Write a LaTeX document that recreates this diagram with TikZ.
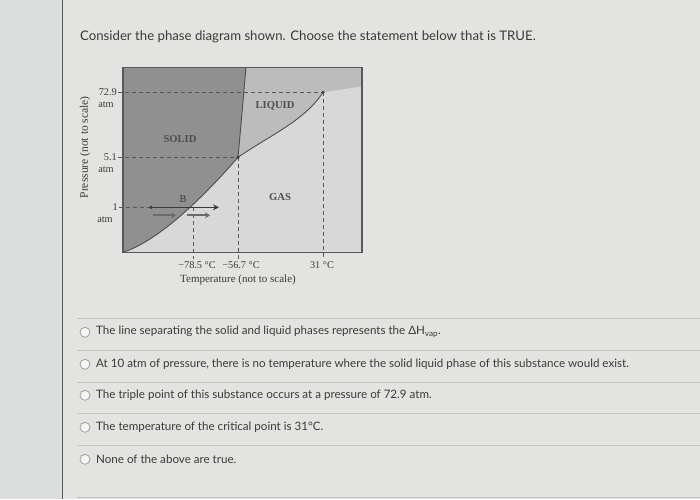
\documentclass[tikz,border=0pt]{standalone}
\usepackage{fontspec}
\setmainfont{Lato}
\newfontfamily\diagfont{Liberation Serif}
\usetikzlibrary{arrows.meta}
\definecolor{bgpanel}{HTML}{E3E3E1}
\definecolor{bgleft}{HTML}{DCDEDE}
\definecolor{solidc}{HTML}{909090}
\definecolor{liquidc}{HTML}{BCBCBC}
\definecolor{gasc}{HTML}{D8D8D8}
\definecolor{inkc}{HTML}{3A3A3A}
\definecolor{sepc}{HTML}{C4C4C4}
\begin{document}
\begin{tikzpicture}[x=1pt,y=-1pt,
  dlabel/.style={font=\diagfont\fontsize{10.3}{11}\selectfont, text=inkc, inner sep=0pt},
  phaselabel/.style={font=\diagfont\fontsize{10.6}{11}\selectfont\bfseries, text=inkc!90, inner sep=0pt},
  guide/.style={draw=inkc!85, dash pattern=on 4pt off 3pt, line width=0.7pt},
  phaseline/.style={draw=inkc!90, line width=0.9pt},
  opt/.style={font=\fontsize{11.6}{13}\selectfont, text=inkc, anchor=west, inner sep=0pt},
  radio/.style={circle, draw=gray!75, fill=white!92!gray, minimum size=10pt, inner sep=0pt, line width=0.8pt},
  sepline/.style={draw=sepc, line width=0.8pt},
  smallarrow/.style={draw=inkc!75, line width=2pt, -{Stealth[length=5pt,width=6pt]}}]

\fill[bgleft] (0,0) rectangle (700,499);
\fill[bgpanel] (62,0) rectangle (700,499);
\draw[gray!70!black, line width=0.6pt] (62,0) -- (62,499);
\useasboundingbox (0,0) rectangle (700,499);

% title
\node[anchor=west, inner sep=0pt, text=inkc, font=\fontsize{13.2}{15}\selectfont] (title) at (80,37)
  {Consider the phase diagram shown. Choose the statement below that is TRUE.};

% key points
\coordinate (TL) at (123,67);
\coordinate (TR) at (362,67);
\coordinate (BR) at (362,252);
\coordinate (BL) at (123,252);
\coordinate (TP) at (238,157);
\coordinate (CP) at (323,92);
\coordinate (SLtop) at (246,67);
\coordinate (RE) at (362,86);
\coordinate (SG1) at (193,207);
\coordinate (bot) at (0,259);

% regions
\fill[gasc] (TL) rectangle (BR);
\fill[liquidc] (SLtop) -- (TR) -- (RE) -- (CP) .. controls (305,120) and (270,135) .. (TP)
   .. controls (241,125) and (243,100) .. (SLtop) -- cycle;
\fill[solidc] (TL) -- (SLtop) .. controls (243,100) and (241,125) .. (TP)
   .. controls (205,195) and (160,240) .. (BL) -- cycle;

% phase lines
\draw[phaseline] (BL) .. controls (160,240) and (205,195) .. (TP);
\draw[phaseline] (TP) .. controls (241,125) and (243,100) .. (SLtop);
\draw[phaseline] (TP) .. controls (270,135) and (305,120) .. (CP);

% frame
\draw[draw=inkc!85, line width=1.1pt] (TL) rectangle (BR);

% pressure labels
\node[dlabel, anchor=east] (p729) at (117,92) {72.9};
\node[dlabel] (p729u) at (106,104) {atm};
\node[dlabel, anchor=east] (p51) at (117,157) {5.1};
\node[dlabel] (p51u) at (106,169) {atm};
\node[dlabel, anchor=east] (p1) at (118,207) {1};
\node[dlabel] (p1u) at (105,219) {atm};
\node[dlabel, rotate=90, font=\diagfont\fontsize{11.5}{12}\selectfont] (ylab) at (85,147) {Pressure (not to scale)};

% guides
\coordinate (Bstart) at (151,207);
\coordinate (Bend) at (219,207);
\draw[guide] ([xshift=1pt]p729.east) -- (CP);
\draw[guide] ([xshift=1pt]p51.east) -- (TP);
\draw[guide] ([xshift=1pt]p1.east) -- (Bstart);
\draw[guide] (CP) -- (CP |- bot);
\draw[guide] (TP) -- (TP |- bot);
\draw[guide] (SG1) -- (SG1 |- bot);

\fill[inkc] (CP) circle (1.7);
\fill[inkc] (TP) circle (1.7);

% phase names
\node[phaselabel] (solid) at (180,139) {SOLID};
\node[phaselabel] (liquid) at (275,106) {LIQUID};
\node[phaselabel] (gas) at (280,197) {GAS};

% arrows at 1 atm
\draw[draw=inkc, line width=1.6pt, -{Stealth[length=6pt,width=6pt]}] (Bstart) -- (Bend);
\fill[inkc] (Bstart) circle (1.8);
\node[dlabel] (B) at (183,199) {B};
\coordinate (a1s) at (153,215);
\coordinate (a1e) at (176,215);
\coordinate (a2s) at (187,215);
\coordinate (a2e) at (210,215);
\draw[smallarrow] (a1s) -- (a1e);
\draw[smallarrow] (a2s) -- (a2e);

% temperature labels
\node[dlabel] (t785) at (197,265) {−78.5 °C};
\node[dlabel] (t567) at (241,265) {−56.7 °C};
\node[dlabel] (t31) at (322,265) {31 °C};
\node[dlabel, font=\diagfont\fontsize{11}{12}\selectfont] (xlab) at (238,280) {Temperature (not to scale)};

% separators
\foreach \yy [count=\i] in {318,350,382,413,445,497}
  \draw[sepline] (77,\yy) -- (700,\yy);

% options
\node[radio] (r1) at (85,332) {};
\node[opt] (o1) at (96,332) {The line separating the solid and liquid phases represents the ΔH\textsubscript{vap}.};
\node[radio] (r2) at (85,364) {};
\node[opt] (o2) at (96,364) {At 10 atm of pressure, there is no temperature where the solid liquid phase of this substance would exist.};
\node[radio] (r3) at (85,395) {};
\node[opt] (o3) at (96,395) {The triple point of this substance occurs at a pressure of 72.9 atm.};
\node[radio] (r4) at (85,427) {};
\node[opt] (o4) at (96,427) {The temperature of the critical point is 31°C.};
\node[radio] (r5) at (85,459) {};
\node[opt] (o5) at (96,459) {None of the above are true.};
\end{tikzpicture}
\end{document}
